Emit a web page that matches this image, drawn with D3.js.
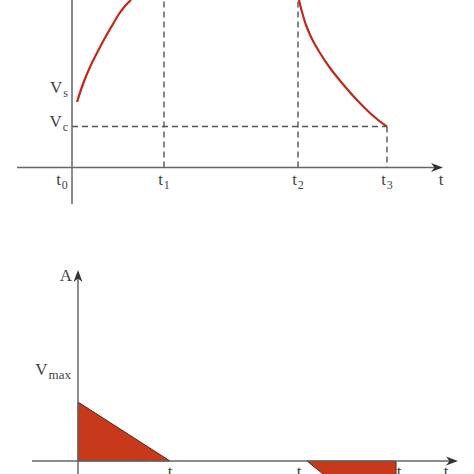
<!DOCTYPE html>
<html><head><meta charset="utf-8">
<script src="https://cdn.jsdelivr.net/npm/d3@7"></script>
<style>
html,body{margin:0;padding:0;background:#fff;}
svg{display:block;}
text{font-family:"Liberation Serif","DejaVu Serif",serif;fill:#444;}
</style></head>
<body>
<svg id="c" width="474" height="474"></svg>
<script>
// ---------- data ----------
// top panel: tick times and levels
const topTickNames = ["0","1","2","3"];
const topTickTimes = [0, 4.6, 11.3, 15.75];
const topLevelNames = ["s","c"];
const topLevels = [7.45, 4.1];
// rising curve (t, V)
const riseT = [0.25, 0.55, 0.9, 1.3, 1.7, 2.05, 2.35, 2.65, 2.95];
const riseV = [6.55, 8.35, 10.05, 11.65, 13.15, 14.35, 15.35, 16.15, 16.75];
// decaying curve (t, V)
const fallT = [11.35, 11.5, 11.7, 12.0, 12.4, 12.9, 13.5, 14.2, 14.9, 15.4, 15.75];
const fallV = [16.75, 15.55, 14.25, 12.85, 11.45, 9.95, 8.45, 6.85, 5.45, 4.6, 4.1];
// bottom panel
const botTickTimes = [4.6, 11.05, 16.05];
const botAxisLabelTime = 18.4;
const vmaxLevel = 8.6;
const posAreaT = [0, 0, 4.6];
const posAreaA = [0, 5.9, 0];
const negAreaT = [11.45, 12.25, 13.0, 15.9, 15.9];
const negAreaA = [0, -1.3, -2.5, -2.5, 0];

// ---------- layout ----------
const svg = d3.select("#c");
const axisCol = "#666", dashCol = "#555", curveCol = "#c0291b", fillCol = "#c8391c";

// top scales
const xT = d3.scaleLinear().domain([0, 20]).range([72, 472]);
const yT = d3.scaleLinear().domain([0, 10]).range([167.5, 67.5]);
// bottom scales
const xB = d3.scaleLinear().domain([0, 20]).range([78, 478]);
const yB = d3.scaleLinear().domain([0, 10]).range([461, 361]);

function arrowRight(g, x, y){
  g.append("path").attr("d",`M${x},${y} L${x-12},${y-4.5} L${x-8.5},${y} L${x-12},${y+4.5} Z`).attr("fill","#333");
}
function arrowUp(g, x, y){
  g.append("path").attr("d",`M${x},${y} L${x-4.5},${y+12} L${x},${y+8.5} L${x+4.5},${y+12} Z`).attr("fill","#333");
}
function label(g, x, y, main, sub, anchor, subSize){
  const t = g.append("text").attr("x",x).attr("y",y).attr("text-anchor",anchor||"middle").style("font-size","17px");
  t.append("tspan").text(main);
  if(sub){ t.append("tspan").attr("dy",4).attr("dx",1).style("font-size",(subSize||12)+"px").text(sub); }
  return t;
}

// ===== TOP PANEL =====
const gt = svg.append("g");
const dash = "6,4";
gt.append("line").attr("x1",xT(0)).attr("x2",xT(topTickTimes[3])).attr("y1",yT(topLevels[1])).attr("y2",yT(topLevels[1]))
  .attr("stroke",dashCol).attr("stroke-width",1.4).attr("stroke-dasharray",dash);
[topTickTimes[1], topTickTimes[2]].forEach(t=>{
  gt.append("line").attr("x1",xT(t)).attr("x2",xT(t)).attr("y1",yT(0)).attr("y2",0)
    .attr("stroke",dashCol).attr("stroke-width",1.4).attr("stroke-dasharray",dash);
});
gt.append("line").attr("x1",xT(topTickTimes[3])).attr("x2",xT(topTickTimes[3])).attr("y1",yT(topLevels[1])).attr("y2",yT(0))
  .attr("stroke",dashCol).attr("stroke-width",1.4).attr("stroke-dasharray",dash);
// axes
gt.append("line").attr("x1",17).attr("x2",438).attr("y1",yT(0)).attr("y2",yT(0)).attr("stroke",axisCol).attr("stroke-width",1.5);
arrowRight(gt, 443, yT(0));
gt.append("line").attr("x1",xT(0)).attr("x2",xT(0)).attr("y1",0).attr("y2",204).attr("stroke",axisCol).attr("stroke-width",1.5);
// curves
const lineT = d3.line().x(d=>xT(d[0])).y(d=>yT(d[1])).curve(d3.curveCatmullRom.alpha(0.5));
gt.append("path").attr("d", lineT(d3.zip(riseT, riseV))).attr("fill","none").attr("stroke",curveCol).attr("stroke-width",2.2);
gt.append("path").attr("d", lineT(d3.zip(fallT, fallV))).attr("fill","none").attr("stroke",curveCol).attr("stroke-width",2.2);
// tick labels
topTickTimes.forEach((t,i)=>{
  const x = i===0 ? xT(t)-10 : xT(t);
  label(gt, x, 185, "t", topTickNames[i], "middle");
});
label(gt, 441, 185, "t", null, "middle");
topLevels.forEach((v,i)=>{
  label(gt, 68, yT(v), "V", topLevelNames[i], "end");
});

// ===== BOTTOM PANEL =====
const gb = svg.append("g");
const area = d3.line().x(d=>xB(d[0])).y(d=>yB(d[1]));
gb.append("path").attr("d", area(d3.zip(posAreaT,posAreaA))+"Z").attr("fill",fillCol).attr("stroke","#5a2418").attr("stroke-width",1);
gb.append("path").attr("d", area(d3.zip(negAreaT,negAreaA))+"Z").attr("fill",fillCol).attr("stroke","#5a2418").attr("stroke-width",1);
gb.append("line").attr("x1",32).attr("x2",452).attr("y1",yB(0)).attr("y2",yB(0)).attr("stroke",axisCol).attr("stroke-width",1.5);
arrowRight(gb, 458, yB(0));
gb.append("line").attr("x1",xB(0)).attr("x2",xB(0)).attr("y1",276).attr("y2",474).attr("stroke",axisCol).attr("stroke-width",1.5);
arrowUp(gb, xB(0), 270);
label(gb, 72, 281, "A", null, "end");
label(gb, 71, yB(vmaxLevel), "V", "max", "end", 13);
botTickTimes.forEach(t=>{ label(gb, xB(t), 477, "t", "", "middle"); });
label(gb, xB(botAxisLabelTime), 477, "t", null, "middle");
</script>
</body></html>
